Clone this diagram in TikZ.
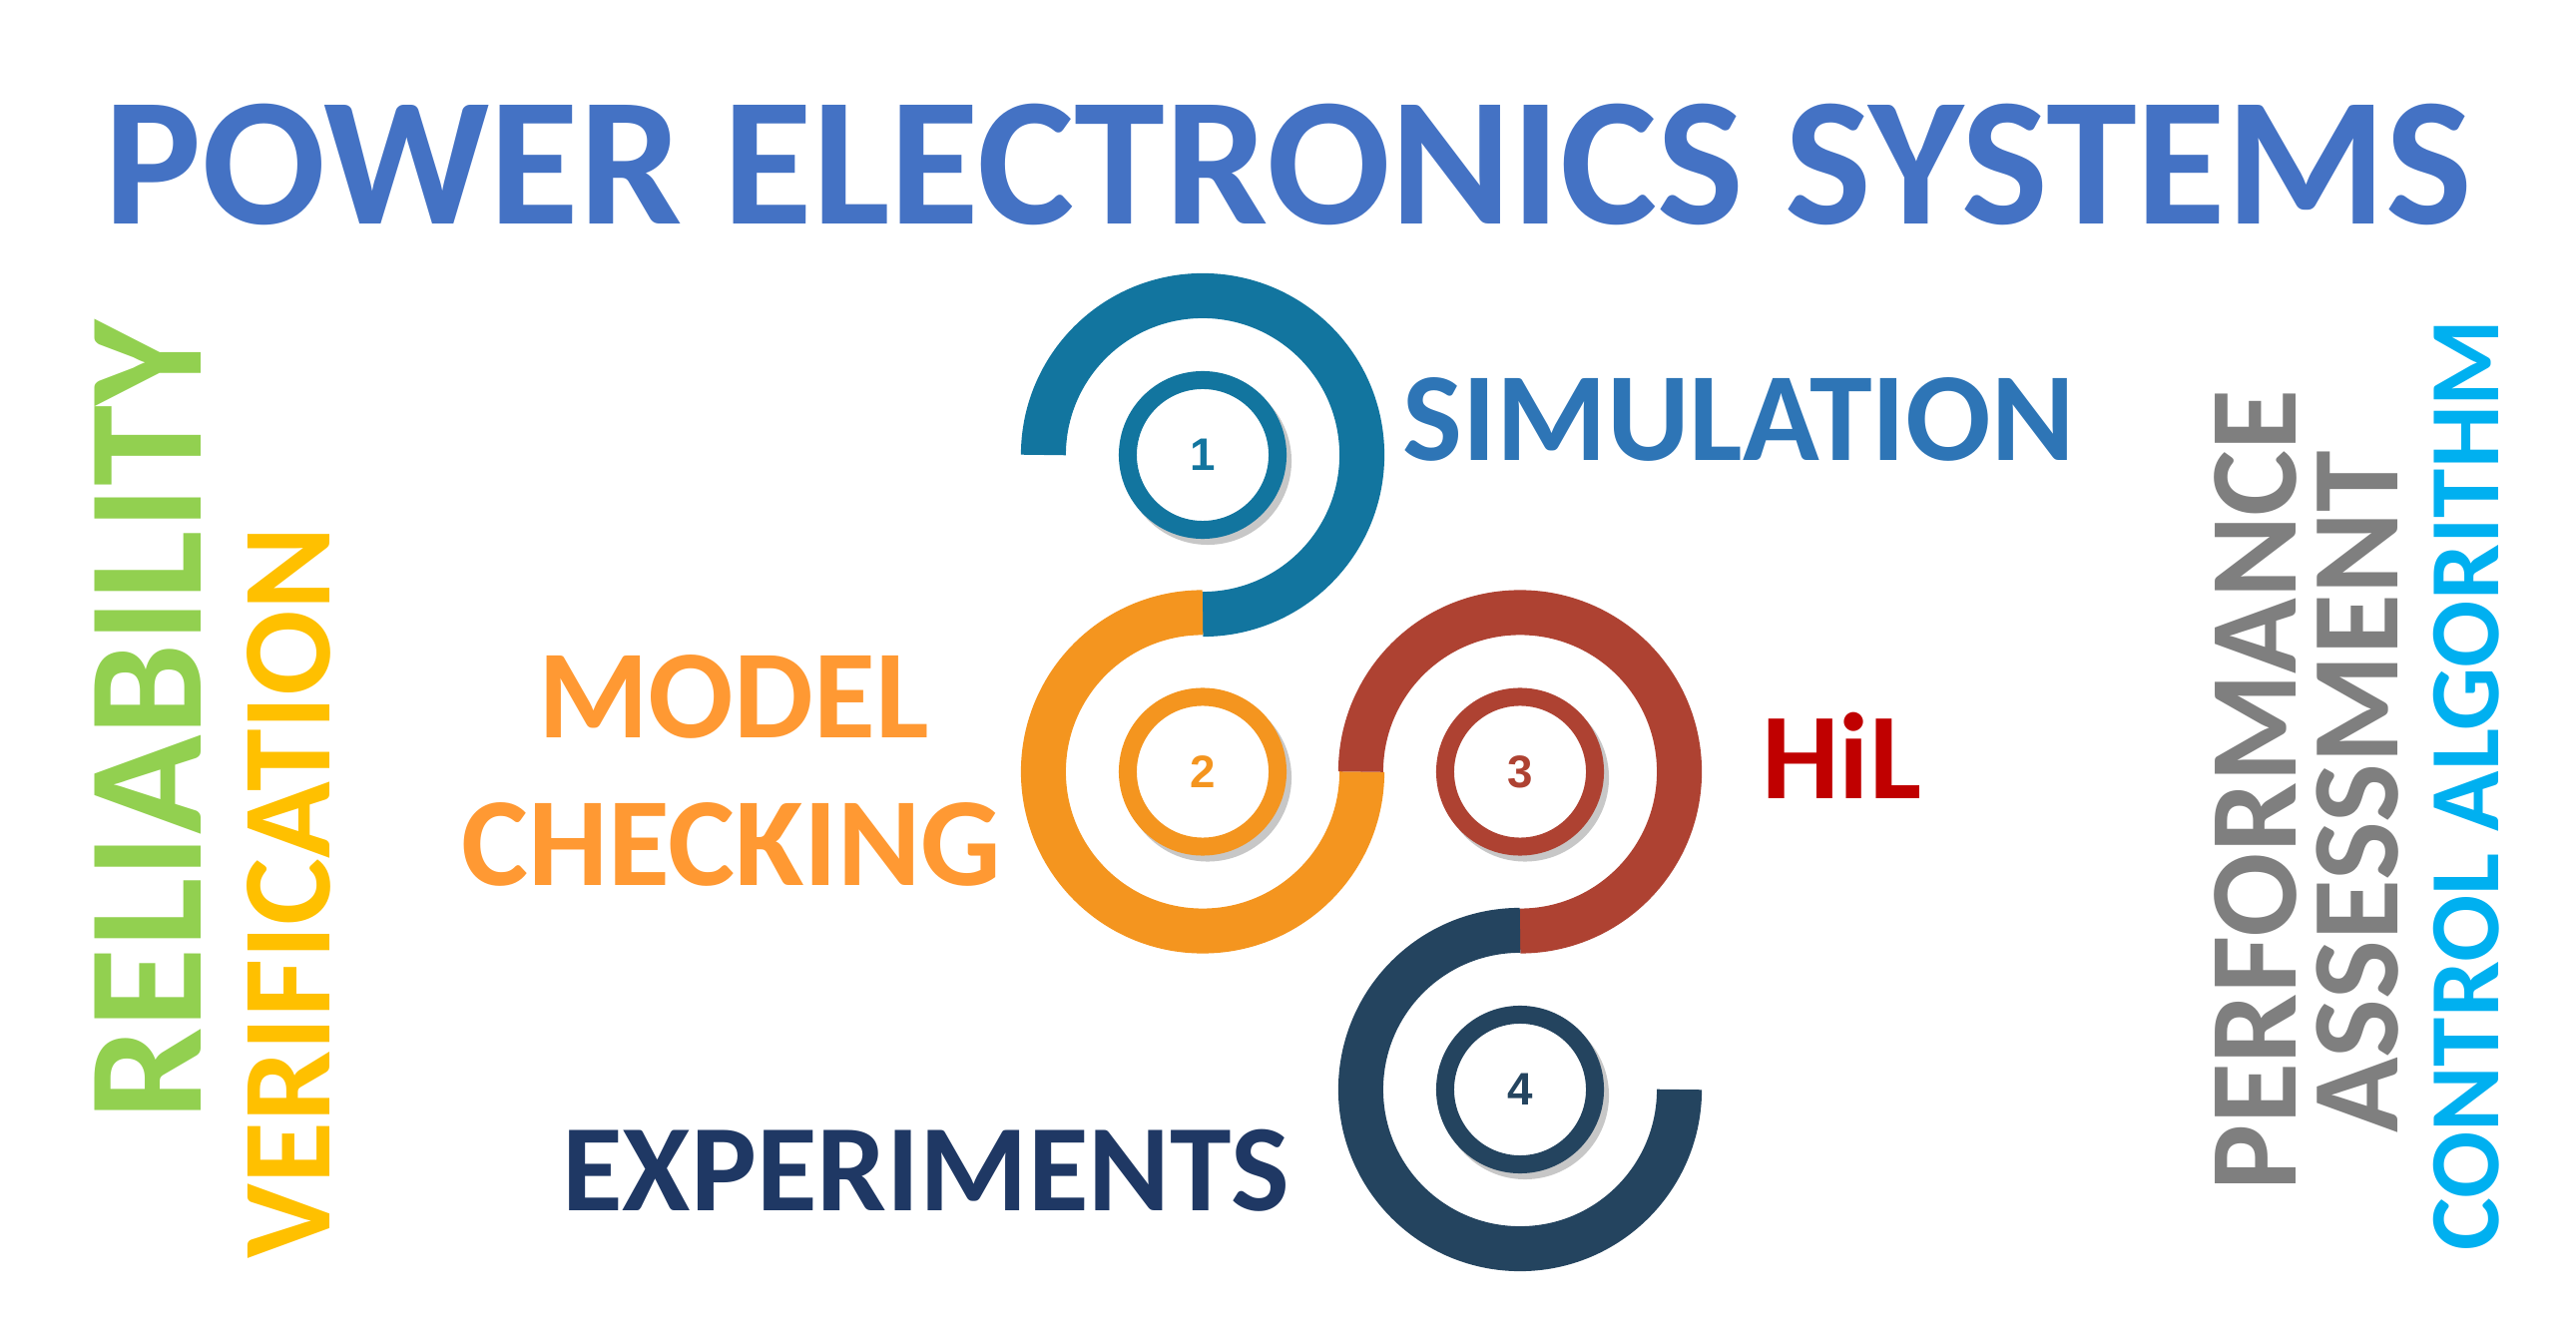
\documentclass[tikz,border=0pt]{standalone}
\usepackage{fontspec}
\setmainfont{Carlito}
\newfontfamily\numfont{Liberation Sans}
\usepackage{tikz}
\definecolor{ringa}{HTML}{12759F}
\definecolor{ringb}{HTML}{F4951F}
\definecolor{ringc}{HTML}{AE4232}
\definecolor{ringd}{HTML}{24445F}
\definecolor{titleblue}{HTML}{4472C4}
\definecolor{simblue}{HTML}{2E75B6}
\definecolor{modelorange}{HTML}{FF9933}
\definecolor{hilred}{HTML}{C00000}
\definecolor{expnavy}{HTML}{1F3864}
\definecolor{relgreen}{HTML}{92D050}
\definecolor{vergold}{HTML}{FFC000}
\definecolor{perfgray}{HTML}{7F7F7F}
\definecolor{ctrlblue}{HTML}{00B0F0}

\begin{document}
\begin{tikzpicture}[x=0.01cm,y=0.01cm,
lab/.style={inner sep=0pt,font=\fontsize{#1}{#1}\selectfont\bfseries},
up/.style={lab=#1,rotate=90},
num/.style={inner sep=0pt,font=\fontsize{13}{13}\selectfont\numfont\bfseries}]
\useasboundingbox (0,0) rectangle (2581,-1322);
\foreach \i/\cx/\cy/\sa/\ea/\col in {1/1205/456/180/-90/ringa,2/1205/773.5/90/360/ringb,3/1523/773.5/180/-90/ringc,4/1523/1092/90/360/ringd}{
\draw[color=\col,line width=4.5mm] (\cx,-\cy) ++(\sa:1.595cm) arc[start angle=\sa,end angle=\ea,radius=1.595cm];
\fill[black!22] (\cx+5,-\cy-6) circle(0.84cm);
\draw[color=\col,line width=1.8mm,fill=white] (\cx,-\cy) circle(0.75cm);
\node[num,color=\col] (n\i) at (\cx,-\cy) {\i};
};
\node[lab=52.2,color=titleblue] (title) at (1291,-165) {POWER ELECTRONICS SYSTEMS};
\node[lab=36,color=simblue] (sim) at (1742,-420) {SIMULATION};
\node[lab=36,color=modelorange] (model) at (735,-698) {MODEL};
\node[lab=36,color=modelorange] (check) at (733,-846) {CHECKING};
\node[lab=35,color=hilred] (hil) at (1845,-757) {HiL};
\node[lab=35.3,color=expnavy] (exp) at (927.5,-1173) {EXPERIMENTS};
\node[up=46.7,color=relgreen] (rel) at (148.5,-722) {RELIABILITY};
\node[up=36,color=vergold] (ver) at (289,-895) {VERIFICATION};
\node[up=35.5,color=perfgray] (perf) at (2260,-792) {PERFORMANCE};
\node[up=35.4,color=perfgray] (assess) at (2362,-794) {ASSESSMENT};
\node[up=28.3,color=ctrlblue] (ctrl) at (2471,-787) {CONTROL ALGORITHM};
\end{tikzpicture}
\end{document}
